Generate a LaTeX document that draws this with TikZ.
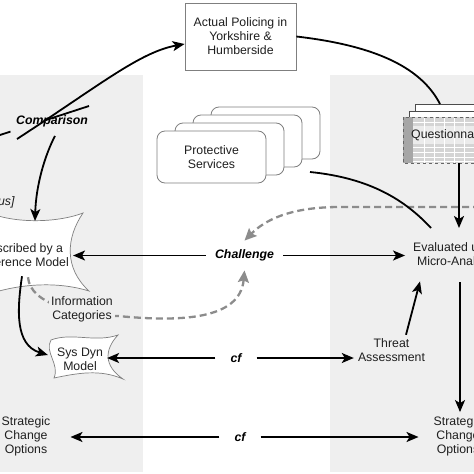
\documentclass[tikz,border=0pt]{standalone}
\usepackage{fontspec}
\setmainfont{Liberation Sans}
\usetikzlibrary{arrows.meta}
\definecolor{panel}{HTML}{EFEFEF}
\definecolor{rim}{HTML}{7F7F7F}
\definecolor{dashgrey}{HTML}{8C8C8C}
\begin{document}
\begin{tikzpicture}[
        x=1pt, y=-1pt,
        every node/.style={font=\fontsize{12.3}{14}\selectfont, align=center, text=black!88},
        box/.style={draw=rim, line width=0.8pt, fill=white},
        txt/.style={inner sep=4pt},
        lbl/.style={font=\fontsize{12.3}{14}\selectfont\bfseries\itshape, text=black, inner sep=9pt},
        ar/.style={-{Stealth[length=12pt,width=10pt,inset=3pt]}, line width=1.8pt},
        ln/.style={line width=1.8pt},
        dsh/.style={-{Stealth[length=12pt,width=11pt,inset=2pt]}, dashgrey, line width=2.3pt, dash pattern=on 7pt off 4pt},
        blob/.style={draw=rim, line width=0.7pt, fill=white},
    ]
    \useasboundingbox (0,0) rectangle (474,474);

    % background panels
    \fill[panel] (-5,75) rectangle (143,472);
    \fill[panel] (330,75) rectangle (480,472);

    \node[box, minimum width=111pt, minimum height=67pt](policing) at (240.5,36.5) {Actual Policing in\\Yorkshire \&\\Humberside};

    \foreach \i in {3,2,1}
        \draw[box, rounded corners=8pt] ({157+18*\i},{131-8*\i}) rectangle +(109,52);
    \node[box, rounded corners=8pt, minimum width=109pt, minimum height=52pt](protective) at (211.5,157) {Protective\\Services};

    % questionnaire stack
    \draw[box, draw=black!70] (415,104) rectangle (480,150);
    \draw[box, draw=black!70] (409,111) rectangle (480,155);
    \fill[black!17] (403,117) rectangle (480,163);
    \fill[black!8] (413,126) rectangle (480,144);
    \foreach \x in {424,434,...,474}
        \draw[white, line width=1pt] (\x,117) -- (\x,163);
    \foreach \y in {122,147,152,157,161}
        \draw[white, line width=1pt] (413,\y) -- (480,\y);
    \fill[black!35] (403,117) rectangle (413,163);
    \draw[black!60, dashed, line width=0.7pt] (403,117) rectangle (480,163);
    \node[anchor=west, inner sep=0pt](quest) at (411,135) {Questionnaire};
    \coordinate (questtop) at (440,104);
    \coordinate (questbot) at (459,163);

    % clouds
    \draw[blob] (-8,214) .. controls (20,224) and (60,222) .. (83,213)
        .. controls (66,238) and (64,268) .. (89,291)
        .. controls (60,282) and (25,283) .. (-8,293) -- cycle;
    \draw[blob] (51,340) .. controls (72,332) and (95,343) .. (118,335)
        .. controls (104,350) and (104,366) .. (123,379)
        .. controls (100,369) and (78,373) .. (54,378)
        .. controls (60,364) and (44,352) .. (51,340) -- cycle;

    \node[txt](refmodel) at (22,255.5) {Described by a\\Reference Model};
    \node[txt](sysdyn) at (80,359) {Sys Dyn\\Model};
    \node[txt](threat) at (391.5,350.5) {Threat\\Assessment};
    \node[txt, inner sep=8pt](eval) at (457,255.5) {Evaluated using\\Micro-Analysis};
    \node[txt](stratL) at (26,436) {Strategic\\Change\\Options};
    \node[txt](stratR) at (458,436) {Strategic\\Change\\Options};
    \node[anchor=east, font=\fontsize{12.3}{14}\selectfont\itshape](note) at (18,202) {[Various]};

    \node[lbl](compare) at (52,121) {Comparison};
    \node[lbl](challenge) at (244.5,255.5) {Challenge};
    \node[lbl, inner sep=15pt](cfmid) at (236,358) {cf};
    \node[lbl, inner sep=15pt](cfbot) at (240,437) {cf};

    \coordinate (cmpA) at (0,135);
    \coordinate (cmpB) at (89,106);
    \coordinate (cmpC) at (17,139);
    \coordinate (reftop) at (35,221);
    \coordinate (protend) at (310,172);
    \coordinate (evaltop) at (431,228);
    \coordinate (dashin) at (480,207);

    % grey dashed challenge paths
    \draw[dsh] (dashin) -- (340,207) .. controls (290,207) and (265,220) .. (challenge.north);
    \draw[dsh] ([xshift=6pt,yshift=-6pt]refmodel.south) .. controls (30,305) and (80,315) .. (118,316)
        .. controls (180,322) and (240,320) .. (challenge.south);
    \node[txt, fill=panel, inner sep=2pt](info) at (82,309) {Information\\Categories};

    \draw[ln, dash pattern=on 11pt off 35pt on 70pt] (cmpA) -- (cmpB);
    \draw[ar] (cmpC) .. controls (100,85) and (140,52) .. ([yshift=-7.5pt]policing.west);
    \draw[ar] ([xshift=3pt]compare.south) .. controls (45,155) and (36,185) .. (reftop);
    \draw[ln] (policing.east) .. controls (370,45) and (420,65) .. (questtop);
    \draw[ln] (protend) .. controls (370,178) and (405,200) .. (evaltop);
    \draw[ar] (questbot) -- (questbot |- evaltop);
    \draw[ar] ([yshift=-5pt]refmodel.south) .. controls (17,310) and (15,345) .. ([xshift=-5pt,yshift=4pt]sysdyn.west);

    \path[ar]
    (challenge) edge (refmodel.east)
    (challenge) edge (eval.west)
    (cfmid.west) edge (sysdyn.east |- cfmid.west)
    (cfmid.east) edge (threat.west |- cfmid.east)
    ([xshift=14.5pt]threat.north) edge ([xshift=-37pt,yshift=-5pt]eval.south)
    ([xshift=3pt,yshift=-6pt]eval.south) edge ([xshift=3pt]eval.south |- stratR.north)
    ;
    \draw[ar, shorten >=16pt] (cfbot.west) -- (stratL.east |- cfbot.west);
    \draw[ar, shorten >=11pt] (cfbot.east) -- (stratR.west |- cfbot.east);
\end{tikzpicture}
\end{document}
